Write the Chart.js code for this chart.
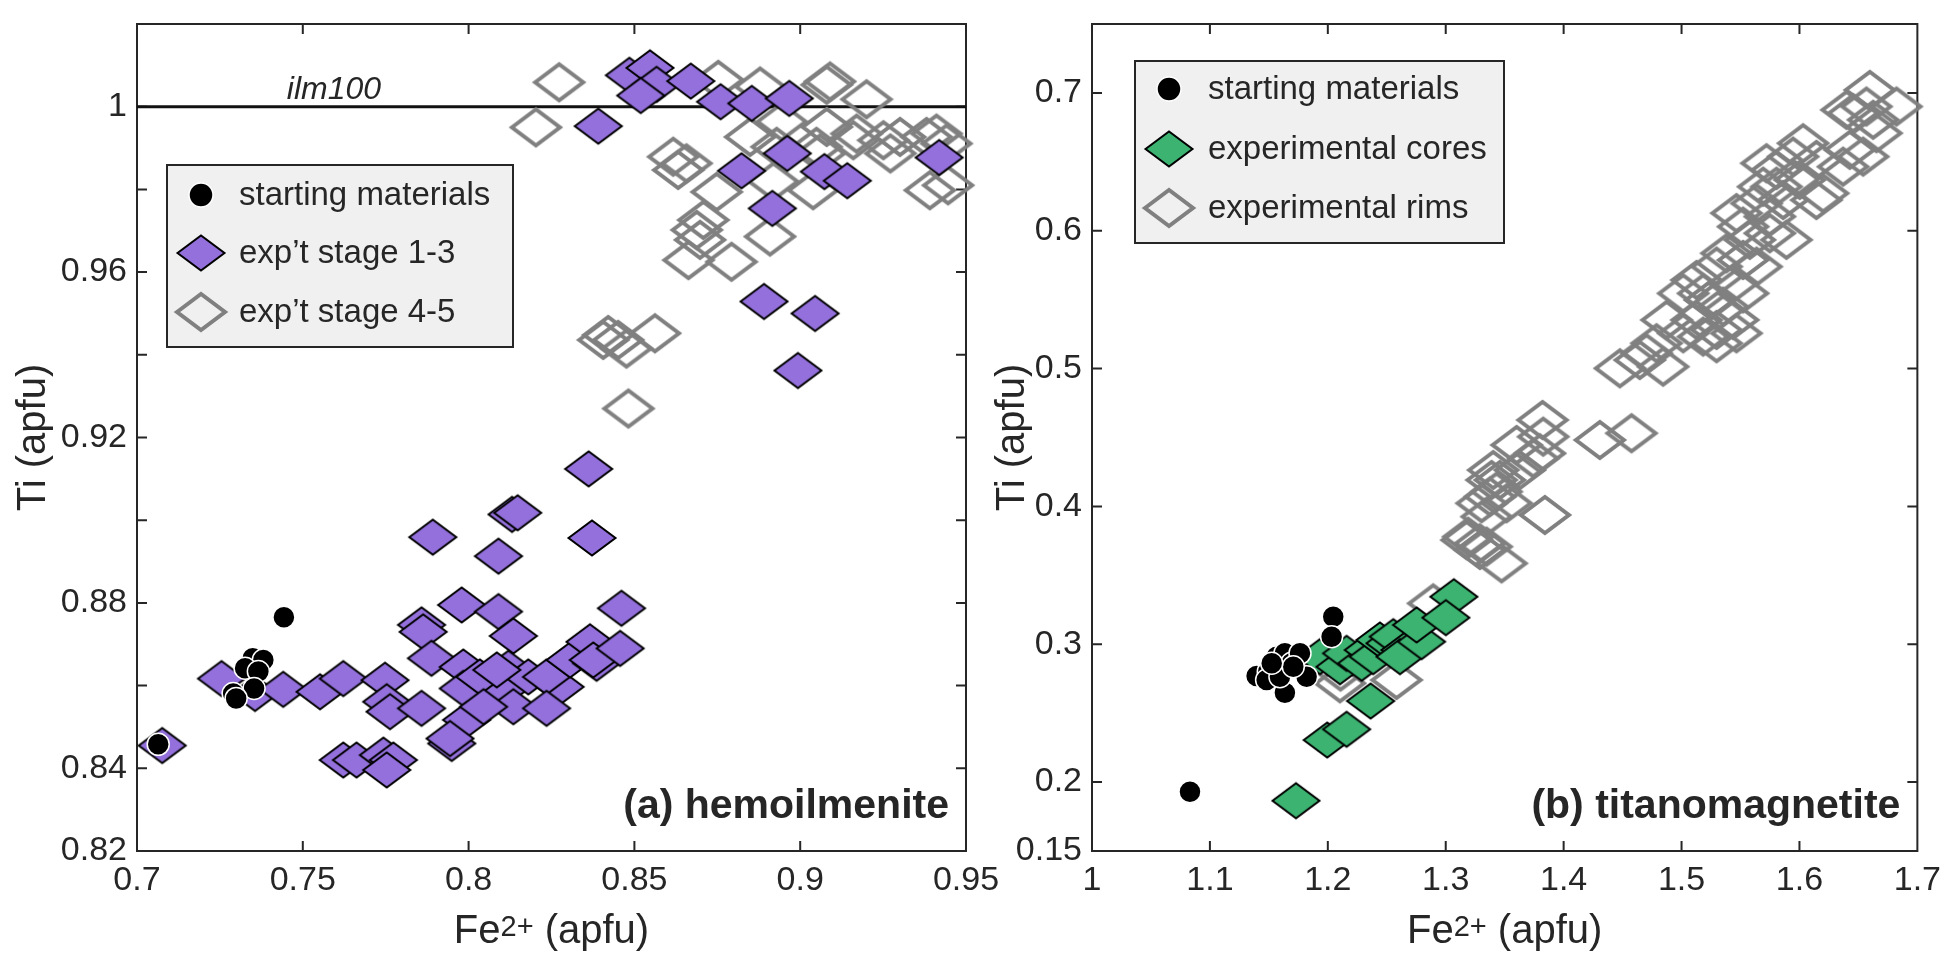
<!DOCTYPE html>
<html><head><meta charset="utf-8">
<script src="https://cdn.jsdelivr.net/npm/chart.js@4.4.1/dist/chart.umd.min.js"></script>
<style>
html,body{margin:0;padding:0;background:#fff;width:1950px;height:969px;overflow:hidden;}
canvas{position:absolute;top:0;}
#cA{left:0px;} #cB{left:940px;}
</style></head><body>
<canvas id="cA" width="1010" height="969"></canvas>
<canvas id="cB" width="1010" height="969"></canvas>
<script>
// ---------- (a) hemoilmenite : [Fe2+, Ti] ----------
const hemoStart = [[0.7064,0.8458],[0.7443,0.8765],[0.7349,0.8666],[0.7381,0.8662],[0.7326,0.8642],[0.7366,0.8634],[0.7353,0.8593],[0.7290,0.8581],[0.7299,0.8569]];
const hemoStage13 = [[0.7076,0.8455],[0.7255,0.8617],[0.7356,0.8581],[0.7441,0.8591],[0.7552,0.8585],[0.7622,0.8617],[0.7748,0.8613],[0.7753,0.8561],[0.7763,0.8537],[0.7858,0.8545],[0.7858,0.8747],[0.7863,0.8730],[0.7979,0.8795],[0.7888,0.8666],[0.8090,0.8779],[0.8135,0.8720],[0.7984,0.8645],[0.8120,0.8642],[0.7984,0.8593],[0.7994,0.8517],[0.7949,0.8460],[0.7944,0.8472],[0.8104,0.8589],[0.8135,0.8549],[0.8034,0.8621],[0.8180,0.8621],[0.8276,0.8597],[0.8235,0.8621],[0.8235,0.8545],[0.8306,0.8662],[0.8366,0.8706],[0.8386,0.8654],[0.8376,0.8662],[0.8461,0.8787],[0.8457,0.8690],[0.7622,0.8420],[0.7662,0.8420],[0.7743,0.8432],[0.7773,0.8420],[0.7753,0.8396],[0.8045,0.8549],[0.8085,0.8638],[0.8090,0.8913],[0.7892,0.8959],[0.8131,0.9014],[0.8148,0.9018],[0.8372,0.8957],[0.8362,0.9124],[0.8391,0.9953],[0.8485,1.0076],[0.8547,1.0094],[0.8567,1.0054],[0.8519,1.0027],[0.8670,1.0062],[0.8760,1.0012],[0.8854,1.0008],[0.8967,1.0020],[0.8823,0.9845],[0.8961,0.9887],[0.9073,0.9843],[0.9142,0.9821],[0.8916,0.9754],[0.9419,0.9877],[0.8891,0.9529],[0.9045,0.9500],[0.8993,0.9362]];
const hemoStage45 = [[0.8273,1.0059],[0.8203,0.9950],[0.8753,1.0065],[0.8879,1.0049],[0.9080,1.0053],[0.9090,1.0061],[0.9200,1.0018],[0.8944,0.9964],[0.9080,0.9951],[0.9170,0.9935],[0.9251,0.9919],[0.9301,0.9927],[0.9272,0.9887],[0.9381,0.9927],[0.9411,0.9935],[0.9441,0.9911],[0.9391,0.9798],[0.9446,0.9810],[0.9160,0.9919],[0.8849,0.9927],[0.8929,0.9903],[0.9049,0.9903],[0.9060,0.9887],[0.8617,0.9879],[0.8632,0.9847],[0.8657,0.9863],[0.8748,0.9794],[0.8919,0.9819],[0.9039,0.9798],[0.8688,0.9702],[0.8708,0.9726],[0.8663,0.9629],[0.8793,0.9625],[0.8909,0.9686],[0.8698,0.9678],[0.8482,0.9270],[0.8406,0.9436],[0.8421,0.9448],[0.8451,0.9436],[0.8476,0.9415],[0.8562,0.9452]];
const ilmLine = [[0.70,1.0],[0.95,1.0]];

// ---------- (b) titanomagnetite : [Fe2+, Ti] ----------
const tmtStart = [[1.0831,0.1930],[1.2046,0.3200],[1.2032,0.3055],[1.1396,0.2770],[1.1495,0.2801],[1.1566,0.2910],[1.1636,0.2934],[1.1693,0.2862],[1.1764,0.2934],[1.1820,0.2765],[1.1636,0.2649],[1.1481,0.2741],[1.1594,0.2765],[1.1707,0.2837],[1.1524,0.2862]];
const tmtCores = [[1.2046,0.2886],[1.1933,0.2910],[1.2103,0.2837],[1.2159,0.2934],[1.2287,0.2862],[1.2343,0.2958],[1.2385,0.2910],[1.2442,0.3031],[1.2527,0.3007],[1.2555,0.3055],[1.2654,0.2958],[1.2612,0.2910],[1.2795,0.3019],[1.2753,0.3140],[1.3069,0.3345],[1.3001,0.3193],[1.2363,0.2588],[1.1995,0.2305],[1.2159,0.2383],[1.1730,0.1865]];
const tmtRims = [[1.2103,0.2717],[1.2583,0.2741],[1.2894,0.3297],[1.2108,0.2802],[1.3431,0.4107],[1.3375,0.4071],[1.3177,0.3756],[1.3290,0.3732],[1.3474,0.3587],[1.3841,0.3938],[1.3347,0.3926],[1.3459,0.4192],[1.3629,0.4264],[1.3799,0.4385],[1.3403,0.4264],[1.3821,0.4627],[1.3601,0.4446],[1.3827,0.4506],[1.3742,0.4349],[1.4307,0.4482],[1.4576,0.4531],[1.3389,0.4192],[1.3304,0.4023],[1.3516,0.4023],[1.3191,0.3780],[1.3347,0.3708],[1.3290,0.3684],[1.4477,0.5002],[1.4703,0.5111],[1.4844,0.5014],[1.4788,0.5184],[1.4646,0.5062],[1.4873,0.5353],[1.5014,0.5256],[1.5183,0.5232],[1.5297,0.5280],[1.5127,0.5353],[1.5240,0.5498],[1.5127,0.5643],[1.5297,0.5740],[1.5438,0.5619],[1.5522,0.5788],[1.5381,0.5837],[1.5579,0.5934],[1.5749,0.5982],[1.5890,0.5934],[1.5466,0.6128],[1.5636,0.6199],[1.5805,0.6320],[1.5720,0.6490],[1.5946,0.6538],[1.6031,0.6635],[1.6144,0.6514],[1.6201,0.6272],[1.6370,0.6465],[1.6427,0.6587],[1.6540,0.6538],[1.6399,0.6877],[1.6597,0.7022],[1.6568,0.6901],[1.6625,0.6805],[1.6823,0.6901],[1.6653,0.6708],[1.6455,0.6853],[1.5805,0.6441],[1.5862,0.6223],[1.6144,0.6223],[1.6003,0.6369],[1.5692,0.6320],[1.5522,0.6030],[1.5749,0.6103],[1.5636,0.5740],[1.5522,0.5546],[1.5353,0.5449],[1.5014,0.5546],[1.5183,0.5546],[1.5438,0.5353],[1.5297,0.5184],[1.5466,0.5256]];

// ---------- ticks ----------
const xTicksA = [0.70,0.75,0.80,0.85,0.90,0.95];
const xTickLabelsA = ['0.7','0.75','0.8','0.85','0.9','0.95'];
const yTicksA = [0.82,0.84,0.86,0.88,0.90,0.92,0.94,0.96,0.98,1.00,1.02];
const yTickLabelsA = ['0.82','0.84','','0.88','','0.92','','0.96','','1',''];
const xTicksB = [1.0,1.1,1.2,1.3,1.4,1.5,1.6,1.7];
const xTickLabelsB = ['1','1.1','1.2','1.3','1.4','1.5','1.6','1.7'];
const yTicksB = [0.15,0.2,0.3,0.4,0.5,0.6,0.7,0.75];
const yTickLabelsB = ['0.15','0.2','0.3','0.4','0.5','0.6','0.7',''];

// ---------- text ----------
const labelsA = ['starting materials','exp\u2019t stage 1-3','exp\u2019t stage 4-5'];
const labelsB = ['starting materials','experimental cores','experimental rims'];
const panelA = '(a) hemoilmenite';
const panelB = '(b) titanomagnetite';
const ilmText = 'ilm100';
const xTitleParts = ['Fe','2+',' (apfu)'];
const yTitle = 'Ti (apfu)';

// ---------- styles ----------
const FF = "'Liberation Sans', Arial, Helvetica, sans-serif";
const INK = '#262626';
const PURPLE = 'rgb(147,112,219)';
const GREEN = 'rgb(60,179,113)';
const GREY = 'rgb(128,128,128)';
Chart.defaults.font.family = FF;
Chart.defaults.color = INK;

function diamond(w, h, fill, stroke, lw) {
  const c = document.createElement('canvas');
  c.width = 2 * Math.ceil((w + lw + 4) / 2);
  c.height = 2 * Math.ceil((h + lw + 4) / 2);
  const g = c.getContext('2d');
  const cx = c.width / 2, cy = c.height / 2;
  g.beginPath();
  g.moveTo(cx - w / 2, cy); g.lineTo(cx, cy - h / 2); g.lineTo(cx + w / 2, cy); g.lineTo(cx, cy + h / 2); g.closePath();
  if (fill) { g.fillStyle = fill; g.fill(); }
  g.lineJoin = 'miter'; g.lineWidth = lw; g.strokeStyle = stroke; g.stroke();
  return c;
}
const dPurple = diamond(47, 35, PURPLE, '#000', 2);
const dGreen = diamond(47, 35, GREEN, '#000', 2);
const dGrey = diamond(48, 36, null, GREY, 4);

const pts = a => a.map(p => ({x: p[0], y: p[1]}));
const circleDS = (label, data) => ({label, data: pts(data), pointStyle: 'circle', pointRadius: 11, backgroundColor: '#000', borderColor: '#fff', borderWidth: 1.5, clip: false});
const imgDS = (label, data, img) => ({label, data: pts(data), pointStyle: img, pointRadius: 20, backgroundColor: 'transparent', borderColor: 'transparent', clip: false});

function tickCB(vals, labs) {
  return v => { const i = vals.findIndex(t => Math.abs(t - v) < 1e-9); return i >= 0 ? labs[i] : ''; };
}

const deco = {
  id: 'deco',
  beforeDatasetsDraw(chart, args, o) {
    const {ctx, chartArea: a, scales} = chart;
    ctx.save();
    ctx.strokeStyle = INK; ctx.lineWidth = 2;
    ctx.beginPath();
    const TL = 10;
    scales.x.ticks.forEach(t => {
      const p = scales.x.getPixelForValue(t.value);
      if (p <= a.left + 1 || p >= a.right - 1) return;
      ctx.moveTo(p, a.bottom); ctx.lineTo(p, a.bottom - TL);
      ctx.moveTo(p, a.top); ctx.lineTo(p, a.top + TL);
    });
    scales.y.ticks.forEach(t => {
      const p = scales.y.getPixelForValue(t.value);
      if (p <= a.top + 1 || p >= a.bottom - 1) return;
      ctx.moveTo(a.left, p); ctx.lineTo(a.left + TL, p);
      ctx.moveTo(a.right, p); ctx.lineTo(a.right - TL, p);
    });
    ctx.stroke();
    ctx.strokeRect(a.left, a.top, a.right - a.left, a.bottom - a.top);
    ctx.restore();
  },
  afterDatasetsDraw(chart, args, o) {
    const {ctx, chartArea: a, scales} = chart;
    ctx.save();
    if (o.ilm) {
      ctx.font = 'italic 32px ' + FF; ctx.fillStyle = INK; ctx.textAlign = 'center'; ctx.textBaseline = 'alphabetic';
      ctx.fillText(o.ilm.text, scales.x.getPixelForValue(o.ilm.x), scales.y.getPixelForValue(o.ilm.y) - 8);
    }
    const L = o.legend;
    const bx = a.left + L.dx, by = a.top + L.dy;
    ctx.fillStyle = '#F0F0F0'; ctx.fillRect(bx, by, L.w, L.h);
    ctx.strokeStyle = INK; ctx.lineWidth = 2; ctx.strokeRect(bx, by, L.w, L.h);
    ctx.font = '33px ' + FF; ctx.textAlign = 'left'; ctx.textBaseline = 'middle';
    const ds = chart.data.datasets.filter(d => d.inLegend);
    ds.forEach((d, i) => {
      const my = by + L.rows[i], mx = bx + L.mx;
      if (d.pointStyle === 'circle') {
        ctx.beginPath(); ctx.arc(mx, my, 12, 0, Math.PI * 2);
        ctx.fillStyle = '#000'; ctx.fill(); ctx.lineWidth = 1.5; ctx.strokeStyle = '#fff'; ctx.stroke();
      } else {
        const im = d.pointStyle; ctx.drawImage(im, mx - im.width / 2, my - im.height / 2);
      }
      ctx.fillStyle = INK; ctx.fillText(d.label, bx + L.tx, my + 1);
    });
    ctx.font = 'bold 41px ' + FF; ctx.fillStyle = INK; ctx.textAlign = 'right'; ctx.textBaseline = 'alphabetic';
    ctx.fillText(o.panel, a.right - 17, a.bottom - 33);
    ctx.restore();
  },
  afterDraw(chart, args, o) {
    const {ctx, chartArea: a} = chart;
    ctx.save();
    const big = '40px ' + FF, small = '29px ' + FF;
    ctx.font = big; const w1 = ctx.measureText(xTitleParts[0]).width, w3 = ctx.measureText(xTitleParts[2]).width;
    ctx.font = small; const w2 = ctx.measureText(xTitleParts[1]).width;
    let x = (a.left + a.right) / 2 - (w1 + w2 + w3) / 2;
    const base = 943;
    ctx.fillStyle = INK; ctx.textAlign = 'left'; ctx.textBaseline = 'alphabetic';
    ctx.font = big; ctx.fillText(xTitleParts[0], x, base); x += w1;
    ctx.font = small; ctx.fillText(xTitleParts[1], x, base - 7); x += w2;
    ctx.font = big; ctx.fillText(xTitleParts[2], x, base);
    ctx.restore();
  }
};

function makeChart(id, cfg) {
  return new Chart(document.getElementById(id), {
    type: 'scatter',
    data: {datasets: cfg.datasets},
    options: {
      responsive: false, animation: false, events: [],
      layout: {padding: cfg.padding},
      plugins: {legend: {display: false}, tooltip: {enabled: false}, deco: cfg.deco},
      scales: {
        x: {
          type: 'linear', min: cfg.xMin, max: cfg.xMax,
          grid: {display: false, drawTicks: false}, border: {display: false},
          afterBuildTicks: s => { s.ticks = cfg.xTicks.map(v => ({value: v})); },
          afterFit: s => { s.height = 118; },
          ticks: {autoSkip: false, maxRotation: 0, padding: 9, font: {size: 34}, color: INK, callback: tickCB(cfg.xTicks, cfg.xLabels)}
        },
        y: {
          type: 'linear', min: cfg.yMin, max: cfg.yMax,
          grid: {display: false, drawTicks: false}, border: {display: false},
          afterBuildTicks: s => { s.ticks = cfg.yTicks.map(v => ({value: v})); },
          afterFit: s => { s.width = cfg.yWidth; },
          ticks: {autoSkip: false, padding: 10, font: {size: 34, lineHeight: 0.8}, color: INK, callback: tickCB(cfg.yTicks, cfg.yLabels)},
          title: {display: true, text: yTitle, font: {size: 40}, color: INK, padding: {top: cfg.yTitlePad, bottom: 0}}
        }
      }
    },
    plugins: [deco]
  });
}

const dsA = [
  Object.assign(circleDS(labelsA[0], hemoStart), {inLegend: true}),
  Object.assign(imgDS(labelsA[1], hemoStage13, dPurple), {inLegend: true}),
  Object.assign(imgDS(labelsA[2], hemoStage45, dGrey), {inLegend: true}),
  {label: ilmText, data: pts(ilmLine), showLine: true, pointRadius: 0, borderColor: '#111111', borderWidth: 3}
];
makeChart('cA', {
  datasets: dsA, padding: {left: 0, top: 24, right: 44, bottom: 0},
  xMin: 0.7, xMax: 0.95, yMin: 0.82, yMax: 1.02,
  xTicks: xTicksA, xLabels: xTickLabelsA, yTicks: yTicksA, yLabels: yTickLabelsA,
  yWidth: 137, yTitlePad: 10,
  deco: {panel: panelA, ilm: {text: ilmText, x: 0.7594, y: 1.0},
    legend: {dx: 30, dy: 141, w: 346, h: 182, rows: [30, 88, 147], mx: 34, tx: 72}}
});

const dsB = [
  Object.assign(circleDS(labelsB[0], tmtStart), {inLegend: true}),
  Object.assign(imgDS(labelsB[1], tmtCores, dGreen), {inLegend: true}),
  Object.assign(imgDS(labelsB[2], tmtRims, dGrey), {inLegend: true})
];
makeChart('cB', {
  datasets: dsB, padding: {left: 0, top: 24, right: 32, bottom: 0},
  xMin: 1.0, xMax: 1.7, yMin: 0.15, yMax: 0.75,
  xTicks: xTicksB, xLabels: xTickLabelsB, yTicks: yTicksB, yLabels: yTickLabelsB,
  yWidth: 152, yTitlePad: 49,
  deco: {panel: panelB, ilm: null,
    legend: {dx: 43, dy: 37, w: 369, h: 182, rows: [28, 88, 147], mx: 34, tx: 73}}
});
</script>
</body></html>
